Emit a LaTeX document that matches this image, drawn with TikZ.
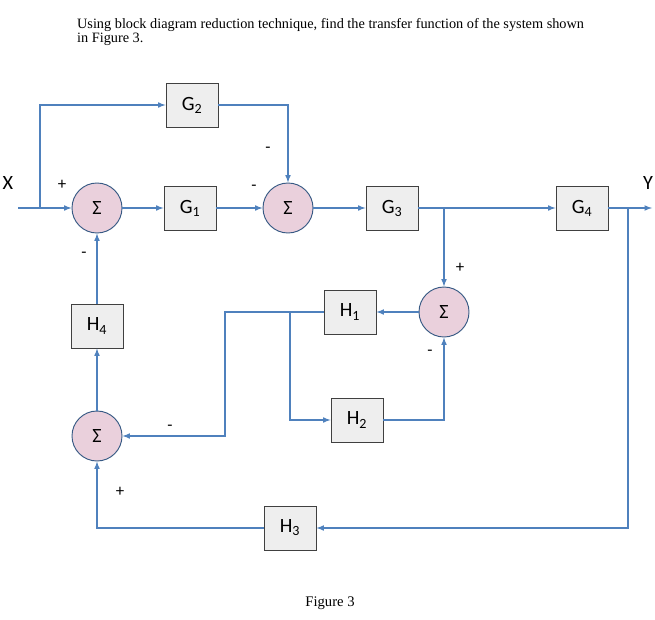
\documentclass[tikz,border=0pt]{standalone}
\usepackage{fontspec}
\setmainfont{Carlito}
\newfontfamily\titlefont{Liberation Serif}
\usetikzlibrary{calc}
\definecolor{wire}{RGB}{79,129,189}
\definecolor{sumfill}{RGB}{234,208,220}
\definecolor{boxfill}{RGB}{238,238,238}
\begin{document}
\begin{tikzpicture}[x=0.03cm,y=-0.03cm,>=latex]
    \tikzstyle{block}=[draw=black!75,fill=boxfill,thick,minimum width=1.56cm,minimum height=1.32cm,font=\LARGE]
    \tikzstyle{sum}=[circle,draw=wire!70!black,fill=sumfill,thick,minimum size=1.5cm,inner sep=0,font=\LARGE]
    \tikzstyle{wire}=[draw=wire,very thick]
    \tikzstyle{sign}=[font=\Large]
    \useasboundingbox (0,0) rectangle (655,619);

    \node[anchor=north west,align=left,font=\titlefont\fontsize{12.2}{12.5}\selectfont] (title) at (73,14)
        {Using block diagram reduction technique, find the transfer function of the system shown\\in Figure 3.};

    \node (s1)[sum] at (97,208) {Σ};
    \node (g1)[block] at (190,208) {G\textsubscript{1}};
    \node (g2)[block] at (192,105) {G\textsubscript{2}};
    \node (s2)[sum] at (288,208) {Σ};
    \node (g3)[block] at (392,208) {G\textsubscript{3}};
    \node (g4)[block] at (582,208) {G\textsubscript{4}};
    \node (s3)[sum] at (444,312) {Σ};
    \node (h1)[block] at (350,312) {H\textsubscript{1}};
    \node (h2)[block] at (357,420) {H\textsubscript{2}};
    \node (h4)[block] at (97,326) {H\textsubscript{4}};
    \node (s4)[sum] at (97,436) {Σ};
    \node (h3)[block] at (290,528) {H\textsubscript{3}};

    \node (x)[font=\LARGE] at (8,183) {X};
    \node (y)[font=\LARGE] at (648,183) {Y};
    \coordinate (xin) at (18,208);
    \coordinate (yout) at (652,208);
    \node[font=\titlefont\fontsize{12.5}{13}\selectfont] (cap) at (330,603) {Figure 3};

    % forward path
    \draw[wire,->] (xin) -- (s1);
    \draw[wire,->] (40,208) |- (g2);
    \draw[wire,->] (g2) -| (s2);
    \draw[wire,->] (s1) -- (g1);
    \draw[wire,->] (g1) -- (s2);
    \draw[wire,->] (s2) -- (g3);
    \draw[wire,->] (g3) -- (g4);
    \draw[wire,->] (g4) -- (yout);

    % feedback loops
    \draw[wire,->] (s3 |- g3) -- (s3);
    \draw[wire,->] (s3) -- (h1);
    \draw[wire,->] (h1.west) -- (225,312) |- (s4);
    \draw[wire,->] (290,312) |- (h2);
    \draw[wire,->] (h2) -| (s3);
    \draw[wire,->] (628,208) |- (h3);
    \draw[wire,->] (h3) -| (s4);
    \draw[wire,->] (s4) -- (h4);
    \draw[wire,->] (h4) -- (s1);

    % signs
    \node[sign] at (62,185) {+};
    \node[sign] at (84,255) {-};
    \node[sign] at (254,188) {-};
    \node[sign] at (268,150) {-};
    \node[sign] at (460,268) {+};
    \node[sign] at (430,353) {-};
    \node[sign] at (170,428) {-};
    \node[sign] at (120,492) {+};
\end{tikzpicture}
\end{document}
